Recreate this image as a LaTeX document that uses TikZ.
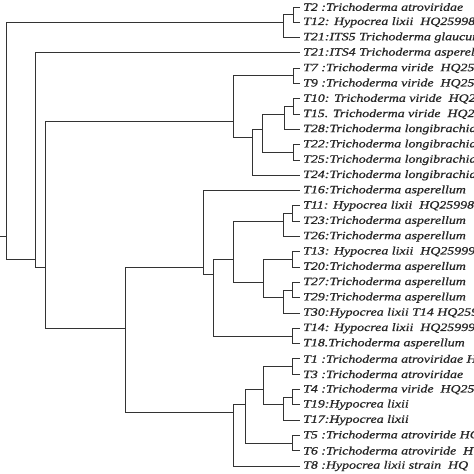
\documentclass[tikz,border=0pt]{standalone}
\usepackage{fontspec}
\usepackage{tikz}
\newfontfamily\taxfont[FakeStretch=1.24,FakeBold=0.7]{Liberation Serif}
\usetikzlibrary{positioning,calc}

\tikzset{
  branch/.style={draw=black!80,line width=0.9pt},
  leaf/.style={anchor=west,inner xsep=3pt,inner ysep=0pt,text=black!85,
    font=\taxfont\itshape\fontsize{11.2}{12}\selectfont}
}

\begin{document}
\begin{tikzpicture}[x=1pt,y=-15.3pt]
    \useasboundingbox (0pt,0pt) rectangle (474pt,-474pt);
    \clip (0pt,0pt) rectangle (474pt,-474pt);
    \fill[white] (0pt,0pt) rectangle (474pt,-474pt);

    \begin{scope}[yshift=-7pt]
    % Taxa
    \foreach \lab [count=\i from 0] in {
        {T2 :Trichoderma atroviridae},
        {T12: Hypocrea lixii\ \ HQ25998},
        {T21:ITS5 Trichoderma glaucum},
        {T21:ITS4 Trichoderma asperellum},
        {T7 :Trichoderma viride\ \ HQ25},
        {T9 :Trichoderma viride\ \ HQ25},
        {T10: Trichoderma viride\ \ HQ2},
        {T15. Trichoderma viride\ \ HQ2},
        {T28:Trichoderma longibrachiatum},
        {T22:Trichoderma longibrachiatum},
        {T25:Trichoderma longibrachiatum},
        {T24:Trichoderma longibrachiatum},
        {T16:Trichoderma asperellum},
        {T11: Hypocrea lixii\ \ HQ259988},
        {T23:Trichoderma asperellum},
        {T26:Trichoderma asperellum},
        {T13: Hypocrea lixii\ \ HQ25999},
        {T20:Trichoderma asperellum},
        {T27:Trichoderma asperellum},
        {T29:Trichoderma asperellum},
        {T30:Hypocrea lixii T14 HQ259},
        {T14: Hypocrea lixii\ \ HQ25999},
        {T18.Trichoderma asperellum},
        {T1 :Trichoderma atroviridae H},
        {T3 :Trichoderma atroviridae},
        {T4 :Trichoderma viride\ \ HQ25},
        {T19:Hypocrea lixii},
        {T17:Hypocrea lixii},
        {T5 :Trichoderma atroviride HQ},
        {T6 :Trichoderma atroviride\ \ H},
        {T8 :Hypocrea lixii strain\ \ HQ}}
      \node[leaf] (l\i) at (300,\i) {\lab};

    % Internal nodes
    \coordinate (stub) at (0,15);
    \coordinate (root) at (6.3,15);
    \coordinate (n02) at (283.3,1);
    \coordinate (n01) at (293.3,0.5);
    \coordinate (b) at (35.3,16.5);
    \coordinate (c) at (45.7,17);
    \coordinate (d) at (233.3,7.5);
    \coordinate (n45) at (293.3,4.5);
    \coordinate (f) at (252.7,8.5);
    \coordinate (i) at (262.7,8);
    \coordinate (h) at (284,7);
    \coordinate (n67) at (293.3,6.5);
    \coordinate (n910) at (293.3,9.5);
    \coordinate (e) at (125,21);
    \coordinate (j) at (203.3,17);
    \coordinate (k) at (213.3,17.5);
    \coordinate (l) at (233.3,16.5);
    \coordinate (n) at (283.3,14);
    \coordinate (n1314) at (292.3,13.5);
    \coordinate (o) at (263.3,18);
    \coordinate (p) at (292.3,16.5);
    \coordinate (q) at (283.3,19);
    \coordinate (r) at (292.3,18.5);
    \coordinate (m) at (292.3,21.5);
    \coordinate (s) at (233.3,26.5);
    \coordinate (t) at (245,26);
    \coordinate (u) at (263.3,25);
    \coordinate (w) at (292.3,23.5);
    \coordinate (x) at (283.3,26);
    \coordinate (n2526) at (292.3,25.5);
    \coordinate (v) at (292.3,28.5);

    % Branches
    \draw[branch] (stub) -- (root);
    \foreach \p/\c in {root/n02, root/b, n02/n01, n02/l2, n01/l0, n01/l1,
        b/l3, b/c, c/d, c/e, d/n45, d/f, n45/l4, n45/l5,
        f/i, f/l11, i/h, i/n910, h/n67, h/l8, n67/l6, n67/l7,
        n910/l9, n910/l10, e/j, e/s, j/l12, j/k, k/l, k/m,
        l/n, l/o, n/n1314, n/l15, n1314/l13, n1314/l14,
        o/p, o/q, p/l16, p/l17, q/r, q/l20, r/l18, r/l19,
        m/l21, m/l22, s/t, s/l30, t/u, t/v, u/w, u/x,
        w/l23, w/l24, x/n2526, x/l27, n2526/l25, n2526/l26,
        v/l28, v/l29}
      \draw[branch] (\p) |- (\c);
    \end{scope}
\end{tikzpicture}
\end{document}
